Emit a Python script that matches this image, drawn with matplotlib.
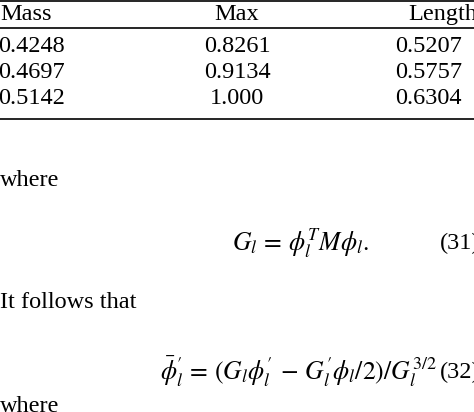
import matplotlib.pyplot as plt

plt.rcParams['font.family'] = 'Liberation Serif'
plt.rcParams['mathtext.fontset'] = 'stix'

headers = ['Mass', 'Max', 'Length']
mass = ['0.4248', '0.4697', '0.5142']
maxv = ['0.8261', '0.9134', '1.000']
length = ['0.5207', '0.5757', '0.6304']

W, H = 474, 412
fig = plt.figure(figsize=(W / 100, H / 100), dpi=100)
ax = fig.add_axes([0, 0, 1, 1])
ax.set_xlim(0, W)
ax.set_ylim(H, 0)
ax.axis('off')

fs = 17.5
# table rules
for y in (1, 28, 119):
    ax.plot([0, W], [y, y], color='black', lw=1.2)

col_x = [0, 237, 408]
col_ha = ['left', 'center', 'left']
for x, ha, h in zip(col_x, col_ha, headers):
    ax.text(x, 14, h, ha=ha, va='center', fontsize=fs)

row_y = [46, 72, 98]
for i, y in enumerate(row_y):
    ax.text(-2, y, mass[i], ha='left', va='center', fontsize=fs)
    ax.text(237, y, maxv[i], ha='center', va='center', fontsize=fs)
    ax.text(395, y, length[i], ha='left', va='center', fontsize=fs)

ax.text(0, 180, 'where', ha='left', va='center', fontsize=fs)
ax.text(232, 243, r'$G_l\,=\,\phi_l^T M \phi_l.$', ha='left', va='center', fontsize=fs + 1)
ax.text(440, 243, '(31)', ha='left', va='center', fontsize=fs)
ax.text(0, 303, 'It follows that', ha='left', va='center', fontsize=fs)
ax.text(160, 372, r"$\bar{\phi}_l'\,=\,(G_l\phi_l'\,-\,G_l'\phi_l/2)/G_l^{3/2}$",
        ha='left', va='center', fontsize=fs + 1)
ax.text(440, 372, '(32)', ha='left', va='center', fontsize=fs)
ax.text(0, 406, 'where', ha='left', va='center', fontsize=fs)

fig.savefig('out.png', dpi=100)
